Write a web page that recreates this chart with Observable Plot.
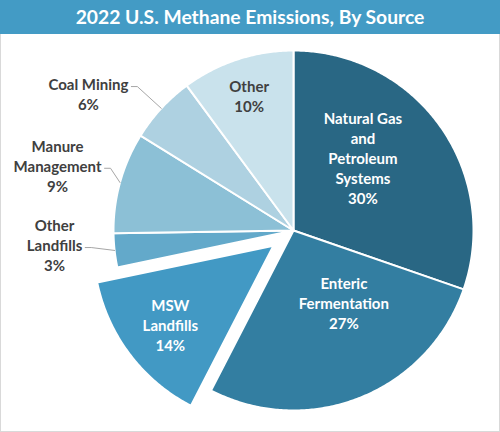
<!DOCTYPE html>
<html>
<head>
<meta charset="utf-8">
<script src="https://cdn.jsdelivr.net/npm/d3@7"></script>
<script src="https://cdn.jsdelivr.net/npm/@observablehq/plot@0.6"></script>
<style>
  body { margin: 0; background: #fff; }
  #wrap { position: relative; width: 500px; height: 432px; }
  #title { height: 34px; background: #439bc5; color: #fff; text-align: center;
           font: bold 19.3px Lato, sans-serif; line-height: 34px; }
  #frame { position: absolute; left: 0; top: 34px; width: 500px; height: 398px;
           box-sizing: border-box; border: 1px solid #d9d9d9; border-top: none; pointer-events: none; }
  #chart svg { display: block; }
</style>
</head>
<body>
<div id="wrap">
  <div id="title">2022 U.S. Methane Emissions, By Source</div>
  <div id="chart"></div>
  <div id="frame"></div>
</div>
<script>
// data, clockwise from 12 o'clock
const sources = ["Natural Gas and Petroleum Systems", "Enteric Fermentation", "MSW Landfills",
                 "Other Landfills", "Manure Management", "Coal Mining", "Other"];
const shares = [30, 27, 14, 3, 9, 6, 10];
const labelLines = [["Natural Gas", "and", "Petroleum", "Systems"], ["Enteric", "Fermentation"],
                    ["MSW", "Landfills"], ["Other", "Landfills"], ["Manure", "Management"],
                    ["Coal Mining"], ["Other"]];

// look
const colors = ["#296784", "#337ea1", "#4299c4", "#63a9ca", "#8cc0d6", "#aed1e1", "#c9e2ec"];
const exploded = "MSW Landfills";
const explodeBy = 0.14;   // share of the radius
const R = 180;            // radius in px
// where each label sits: radius factor and turn (degrees) off the slice middle
const placement = {
  "Natural Gas and Petroleum Systems": {r: 0.56, turn: -11, ink: "white"},
  "Enteric Fermentation": {r: 0.49, turn: -13, ink: "white"},
  "MSW Landfills": {r: 0.72, turn: 0, ink: "white"},
  "Other Landfills": {r: 1.33, turn: 3, ink: "#404040", leader: true},
  "Manure Management": {r: 1.36, turn: 0, ink: "#404040", leader: true},
  "Coal Mining": {r: 1.37, turn: -9, ink: "#404040", leader: true},
  "Other": {r: 0.79, turn: 0, ink: "#404040"}
};
const fontSize = 15, lineHeight = 20;

const toXY = (a, r) => [r * Math.sin(a), r * Math.cos(a)];
const arcs = d3.pie().sort(null).value(d => d)(shares);

const ctx = document.createElement("canvas").getContext("2d");
ctx.font = `bold ${fontSize}px Lato`;

let slicePts = [], labels = [], leaders = [];
arcs.forEach((p, i) => {
  const source = sources[i];
  const mid = (p.startAngle + p.endAngle) / 2;
  const [ox, oy] = toXY(mid, source === exploded ? explodeBy : 0);
  const steps = Math.ceil((p.endAngle - p.startAngle) / 0.01);
  slicePts.push({source, x: ox, y: oy});
  for (let k = 0; k <= steps; k++) {
    const [x, y] = toXY(p.startAngle + (p.endAngle - p.startAngle) * k / steps, 1);
    slicePts.push({source, x: ox + x, y: oy + y});
  }
  slicePts.push({source, x: ox, y: oy});

  const pl = placement[source];
  const lines = labelLines[i].concat(`${shares[i]}%`);
  const [lx, ly] = toXY(mid + pl.turn * Math.PI / 180, pl.r);
  labels.push({source, x: ox + lx, y: oy + ly, text: lines.join("\n"), ink: pl.ink});

  if (pl.leader) {
    const widths = lines.map(s => ctx.measureText(s).width);
    const w = d3.max(widths), k = widths.indexOf(w);
    const sx = lx + (w / 2 + 3) / R;
    const sy = ly - ((k - (lines.length - 1) / 2) * lineHeight + 3) / R;
    const [ex, ey] = toXY(mid, 1);
    leaders.push({source, x: sx, y: sy}, {source, x: sx + 6 / R, y: sy}, {source, x: ex, y: ey});
  }
});

const textOpts = {x: "x", y: "y", text: "text", fontSize, fontWeight: "bold",
                  fontFamily: "Lato, sans-serif", lineHeight: lineHeight / fontSize};

const chart = Plot.plot({
  width: 500,
  height: 398,
  margin: 0,
  x: {domain: [-293 / R, 207 / R], axis: null},
  y: {domain: [-202 / R, 196 / R], axis: null},
  color: {domain: sources, range: colors},
  marks: [
    Plot.line(slicePts, {x: "x", y: "y", z: "source", fill: "source", stroke: "white",
                         strokeWidth: 2, strokeLinejoin: "round", curve: "linear"}),
    Plot.line(leaders, {x: "x", y: "y", z: "source", stroke: "#a6a6a6", strokeWidth: 1}),
    Plot.text(labels.filter(d => d.ink === "white"), {...textOpts, fill: "white"}),
    Plot.text(labels.filter(d => d.ink !== "white"), {...textOpts, fill: "#404040"})
  ]
});
d3.select("#chart").append(() => chart);
</script>
</body>
</html>
